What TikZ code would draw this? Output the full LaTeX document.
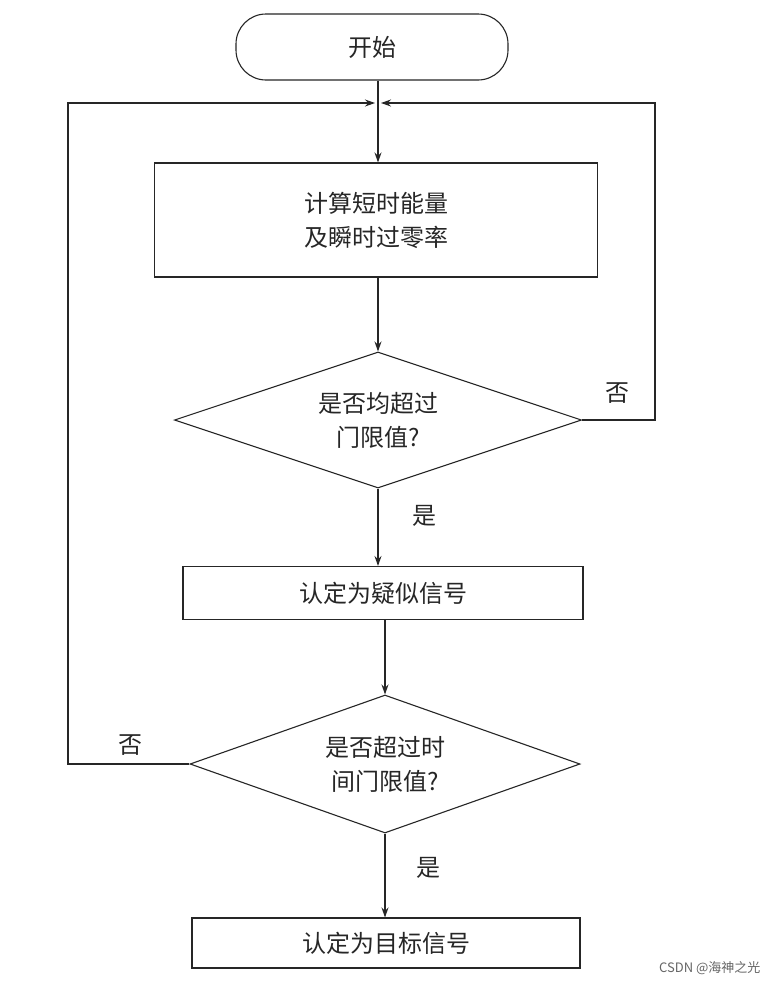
\documentclass[tikz,border=0pt]{standalone}
\usepackage{fontspec}
\setmainfont{Noto Sans CJK SC}
\usetikzlibrary{shapes.geometric,arrows.meta}
\begin{document}
\begin{tikzpicture}[x=1pt,y=-1pt,
  line/.style={draw=black!85,line width=1.1pt},
  arr/.style={line,-{Stealth[length=10pt,width=7pt]}},
  txt/.style={font=\fontsize{24}{34}\selectfont,align=center,text=black!85}]
\useasboundingbox (0,0) rectangle (778,986);
\fill[white] (0,0) rectangle (778,986);
\node[line,rounded corners=30pt,minimum width=272pt,minimum height=66pt,txt] (start) at (372,47) {开始};
\coordinate (m) at (378,103);
\coordinate (mr) at (381,103);
\coordinate (ml) at (375,103);
\node[line,minimum width=443pt,minimum height=114pt,txt] (b1) at (376,220) {计算短时能量\\及瞬时过零率};
\node[line,diamond,aspect=3,minimum width=407pt,minimum height=136pt,inner sep=0pt,txt] (d1) at (378,420) {是否均超过\\门限值?};
\node[line,minimum width=400pt,minimum height=53pt,txt] (b2) at (383,593) {认定为疑似信号};
\node[line,diamond,aspect=3,minimum width=390pt,minimum height=138pt,inner sep=0pt,txt] (d2) at (385,764) {是否超过时\\间门限值?};
\node[line,minimum width=388pt,minimum height=50pt,txt] (b3) at (386,943) {认定为目标信号};
\draw[line] (start.south -| m) -- (m);
\draw[arr] (m) -- (b1.north -| m);
\draw[arr] (b1.south -| d1.north) -- (d1.north);
\draw[arr] (d1.south) -- (d1.south |- b2.north);
\draw[arr] (b2.south -| d2.north) -- (d2.north);
\draw[arr] (d2.south) -- (d2.south |- b3.north);
\coordinate (r1) at (655,420);
\coordinate (r2) at (655,103);
\draw[arr] (d1.east) -- (r1) -- (r2) -- (mr);
\coordinate (l1) at (68,764);
\coordinate (l2) at (68,103);
\draw[arr] (d2.west) -- (l1) -- (l2) -- (ml);
\node[txt] (n1) at (617,393) {否};
\node[txt] (y1) at (424,516) {是};
\node[txt] (n2) at (130,745) {否};
\node[txt] (y2) at (428,868) {是};
\node[font=\fontsize{13}{15}\selectfont,text=black!60,anchor=east] (wm) at (764,968) {CSDN @海神之光};
\end{tikzpicture}
\end{document}
